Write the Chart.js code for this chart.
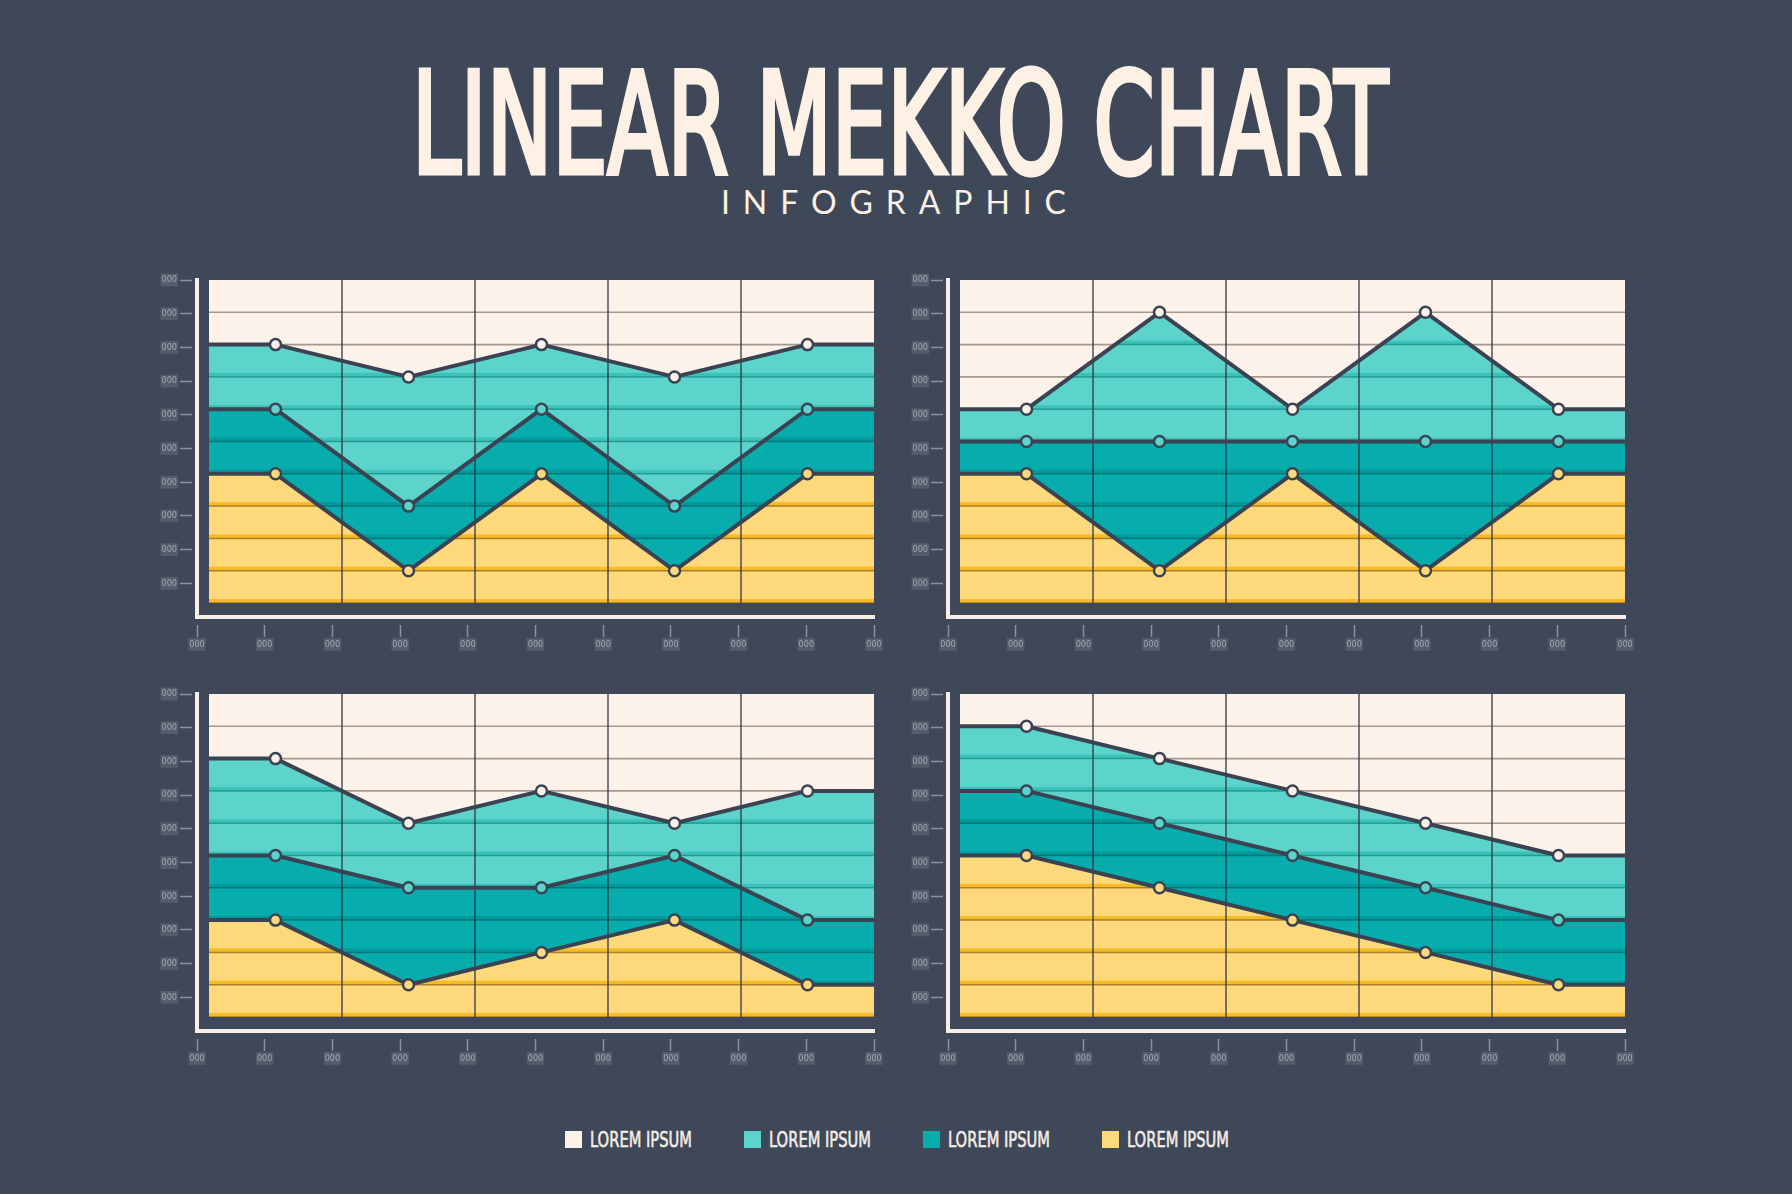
<!DOCTYPE html>
<html>
<head>
<meta charset="utf-8">
<script src="https://cdn.jsdelivr.net/npm/chart.js@4.4.1/dist/chart.umd.min.js"></script>
<style>
  html, body { margin:0; padding:0; width:1792px; height:1194px; overflow:hidden; background:#3f4858; }
  .abs { position:absolute; white-space:nowrap; }
  #title { font-family:"Liberation Sans Narrow","DejaVu Sans Condensed","Roboto",sans-serif; font-weight:normal;
           font-size:141px; line-height:141px; color:#fdf1e6; left:412px; top:54px; transform-origin:0 0;
           -webkit-text-stroke:5px #fdf1e6; }
  #subtitle { font-family:"Lato","Open Sans",sans-serif; font-weight:400; font-size:32px; line-height:32px;
              color:#fdf1e6; left:721px; top:186px; }
  canvas.chart { position:absolute; }
  .lg-box { position:absolute; width:17px; height:17px; top:1131px; }
  .lg-text { position:absolute; top:1129px; font-family:"Liberation Sans Narrow","DejaVu Sans Condensed",sans-serif;
             font-weight:normal; font-size:22px; line-height:22px; color:#f3ece6; transform-origin:0 0; white-space:nowrap;
             -webkit-text-stroke:0.6px #f3ece6; }
</style>
</head>
<body>
<div id="title" class="abs">LINEAR MEKKO CHART</div>
<div id="subtitle" class="abs">INFOGRAPHIC</div>
<canvas id="c1" class="chart" width="750" height="400" style="left:140px;top:266px"></canvas>
<canvas id="c2" class="chart" width="750" height="400" style="left:891px;top:266px"></canvas>
<canvas id="c3" class="chart" width="750" height="400" style="left:140px;top:680px"></canvas>
<canvas id="c4" class="chart" width="750" height="400" style="left:891px;top:680px"></canvas>
<div id="legend"></div>
<script>
// ---------------- DATA ----------------
const columns = ['C1', 'C2', 'C3', 'C4', 'C5'];
const legendLabels = ['LOREM IPSUM', 'LOREM IPSUM', 'LOREM IPSUM', 'LOREM IPSUM']; // cream, light teal, dark teal, yellow
const xTickLabel = '000';
const yTickLabel = '000';
const yTotal = 10;        // each column sums to 10
const axisTickCount = 10; // decorative axis divisions

// shares per column, bottom band to top band
// top-left chart
const tlYellow = [4, 1, 4, 1, 4];
const tlDark   = [2, 2, 2, 2, 2];
const tlLight  = [2, 4, 2, 4, 2];
const tlCream  = [2, 3, 2, 3, 2];
// top-right chart
const trYellow = [4, 1, 4, 1, 4];
const trDark   = [1, 4, 1, 4, 1];
const trLight  = [1, 4, 1, 4, 1];
const trCream  = [4, 1, 4, 1, 4];
// bottom-left chart
const blYellow = [3, 1, 2, 3, 1];
const blDark   = [2, 3, 2, 2, 2];
const blLight  = [3, 2, 3, 1, 4];
const blCream  = [2, 4, 3, 4, 3];
// bottom-right chart
const brYellow = [5, 4, 3, 2, 1];
const brDark   = [2, 2, 2, 2, 2];
const brLight  = [2, 2, 2, 2, 2];
const brCream  = [1, 2, 3, 4, 5];

// ---------------- STYLE ----------------
const FILL  = ['#fdd97b', '#07adad', '#5cd4cb', '#fdf2e9'];   // yellow, dark teal, light teal, cream
const POINT = ['#fdd97b', '#5cd4cb', '#fdf2e9', 'rgba(0,0,0,0)'];
const LINE  = '#3b4352';
const STRIPE = [
  { band:'#f6bb25', bandH:4, line:'rgba(150,100,35,0.75)', lineW:1.5 },
  { band:'#04999b', bandH:4, line:'rgba(0,85,90,0.55)', lineW:1.5 },
  { band:'#3cc3b9', bandH:4, line:'rgba(0,105,105,0.5)', lineW:1.5 },
  { band:null, bandH:0, line:'rgba(110,92,84,0.6)', lineW:1.6 }
];
const TICK_COLOR = '#8a919d';
const TICK_FONT = { family:'"Liberation Sans Narrow","DejaVu Sans Condensed",sans-serif', size:9 };

function extend(vals) {
  const n = vals.length;
  return [{ x: 0, y: vals[0] }]
    .concat(vals.map((v, i) => ({ x: i + 0.5, y: v })))
    .concat([{ x: n, y: vals[n - 1] }]);
}

const stripes = {
  id: 'stripes',
  beforeDatasetsDraw(chart) {
    const ctx = chart.ctx, xs = chart.scales.x, ys = chart.scales.y;
    const n = columns.length;
    const L = xs.getPixelForValue(0), R = xs.getPixelForValue(n);
    const T = ys.getPixelForValue(yTotal), B = ys.getPixelForValue(0);
    const metas = chart.getSortedVisibleDatasetMetas();
    metas.forEach((meta, k) => {
      const st = STRIPE[k];
      ctx.save();
      ctx.beginPath();
      meta.data.forEach((p, i) => i ? ctx.lineTo(p.x, p.y) : ctx.moveTo(p.x, p.y));
      if (k > 0) {
        const lo = metas[k - 1].data;
        for (let i = lo.length - 1; i >= 0; i--) ctx.lineTo(lo[i].x, lo[i].y);
      } else { ctx.lineTo(R, B); ctx.lineTo(L, B); }
      ctx.closePath();
      ctx.clip();
      for (let v = 0; v < yTotal; v++) {
        const y = ys.getPixelForValue(v);
        if (st.band) { ctx.fillStyle = st.band; ctx.fillRect(L, y - st.bandH, R - L, st.bandH); }
        ctx.strokeStyle = st.line; ctx.lineWidth = st.lineW;
        ctx.beginPath(); ctx.moveTo(L, y); ctx.lineTo(R, y); ctx.stroke();
      }
      ctx.restore();
    });
    ctx.save();
    ctx.strokeStyle = 'rgba(45,48,60,0.78)';
    ctx.lineWidth = 1.6;
    for (let c = 1; c < n; c++) {
      const x = xs.getPixelForValue(c);
      ctx.beginPath(); ctx.moveTo(x, T); ctx.lineTo(x, B); ctx.stroke();
    }
    ctx.restore();
  }
};

function makeChart(id, series) {
  const n = columns.length;
  const datasets = series.map((vals, k) => ({
    label: legendLabels[3 - k],
    data: extend(vals),
    backgroundColor: FILL[k],
    fill: k === 0 ? 'origin' : '-1',
    borderColor: k === 3 ? 'rgba(0,0,0,0)' : LINE,
    borderWidth: k === 3 ? 0 : 4,
    borderJoinStyle: 'round',
    tension: 0,
    pointRadius: (c) => (k === 3 || c.dataIndex === 0 || c.dataIndex === n + 1) ? 0 : 5.5,
    pointBackgroundColor: POINT[k],
    pointBorderColor: LINE,
    pointBorderWidth: 2.5
  }));
  return new Chart(document.getElementById(id), {
    type: 'line',
    data: { datasets },
    plugins: [stripes],
    options: {
      responsive: false,
      animation: false,
      events: [],
      layout: { padding: { top: 14, right: 16, left: 0, bottom: 0 } },
      plugins: { legend: { display: false }, tooltip: { enabled: false }, filler: { drawTime: 'beforeDatasetsDraw' } },
      scales: {
        x: { type: 'linear', display: false, min: -0.0902, max: n },
        y: { type: 'linear', display: false, stacked: true, min: -0.433, max: yTotal },
        xd: {
          type: 'linear', position: 'bottom', min: 0, max: axisTickCount,
          afterFit: (s) => { s.height = 49; },
          border: { display: true, color: '#f6eee7', width: 4 },
          grid: { drawOnChartArea: false, drawTicks: true, tickLength: 20, tickColor: TICK_COLOR, tickWidth: 1.5,
                  tickBorderDash: [12, 100], tickBorderDashOffset: 106 },
          ticks: { stepSize: 1, autoSkip: false, maxRotation: 0, padding: 2, color: '#a2a8b2', font: TICK_FONT,
                   showLabelBackdrop: true, backdropColor: '#535d6b', backdropPadding: 1,
                   callback: () => xTickLabel }
        },
        yd: {
          type: 'linear', position: 'left', min: 0, max: axisTickCount,
          afterFit: (s) => { s.width = 57; },
          afterBuildTicks: (s) => { s.ticks = s.ticks.filter(t => t.value > 0); },
          border: { display: true, color: '#f6eee7', width: 4 },
          grid: { drawOnChartArea: false, drawTicks: true, tickLength: 17, tickColor: TICK_COLOR, tickWidth: 1.5,
                  tickBorderDash: [12, 100] },
          ticks: { stepSize: 1, autoSkip: false, padding: 3, color: '#a2a8b2', font: TICK_FONT,
                   showLabelBackdrop: true, backdropColor: '#535d6b', backdropPadding: 1,
                   callback: () => yTickLabel }
        }
      }
    }
  });
}

makeChart('c1', [tlYellow, tlDark, tlLight, tlCream]);
makeChart('c2', [trYellow, trDark, trLight, trCream]);
makeChart('c3', [blYellow, blDark, blLight, blCream]);
makeChart('c4', [brYellow, brDark, brLight, brCream]);

// ---------------- LEGEND ----------------
const legendColors = [FILL[3], FILL[2], FILL[1], FILL[0]];
const legend = document.getElementById('legend');
legendLabels.forEach((txt, i) => {
  const left = 565 + i * 179;
  const b = document.createElement('div');
  b.className = 'lg-box'; b.style.left = left + 'px'; b.style.background = legendColors[i];
  legend.appendChild(b);
  const t = document.createElement('div');
  t.className = 'lg-text'; t.textContent = txt; t.style.left = (left + 25) + 'px';
  legend.appendChild(t);
  const w = t.getBoundingClientRect().width;
  t.style.transform = 'scaleX(' + (102 / w) + ')';
});

// fit title widths
const title = document.getElementById('title');
title.style.transform = 'scaleX(' + (976 / title.getBoundingClientRect().width) + ')';
const sub = document.getElementById('subtitle');
const w0 = sub.getBoundingClientRect().width;
sub.style.letterSpacing = ((345 - w0) / 10) + 'px';
</script>
</body>
</html>
